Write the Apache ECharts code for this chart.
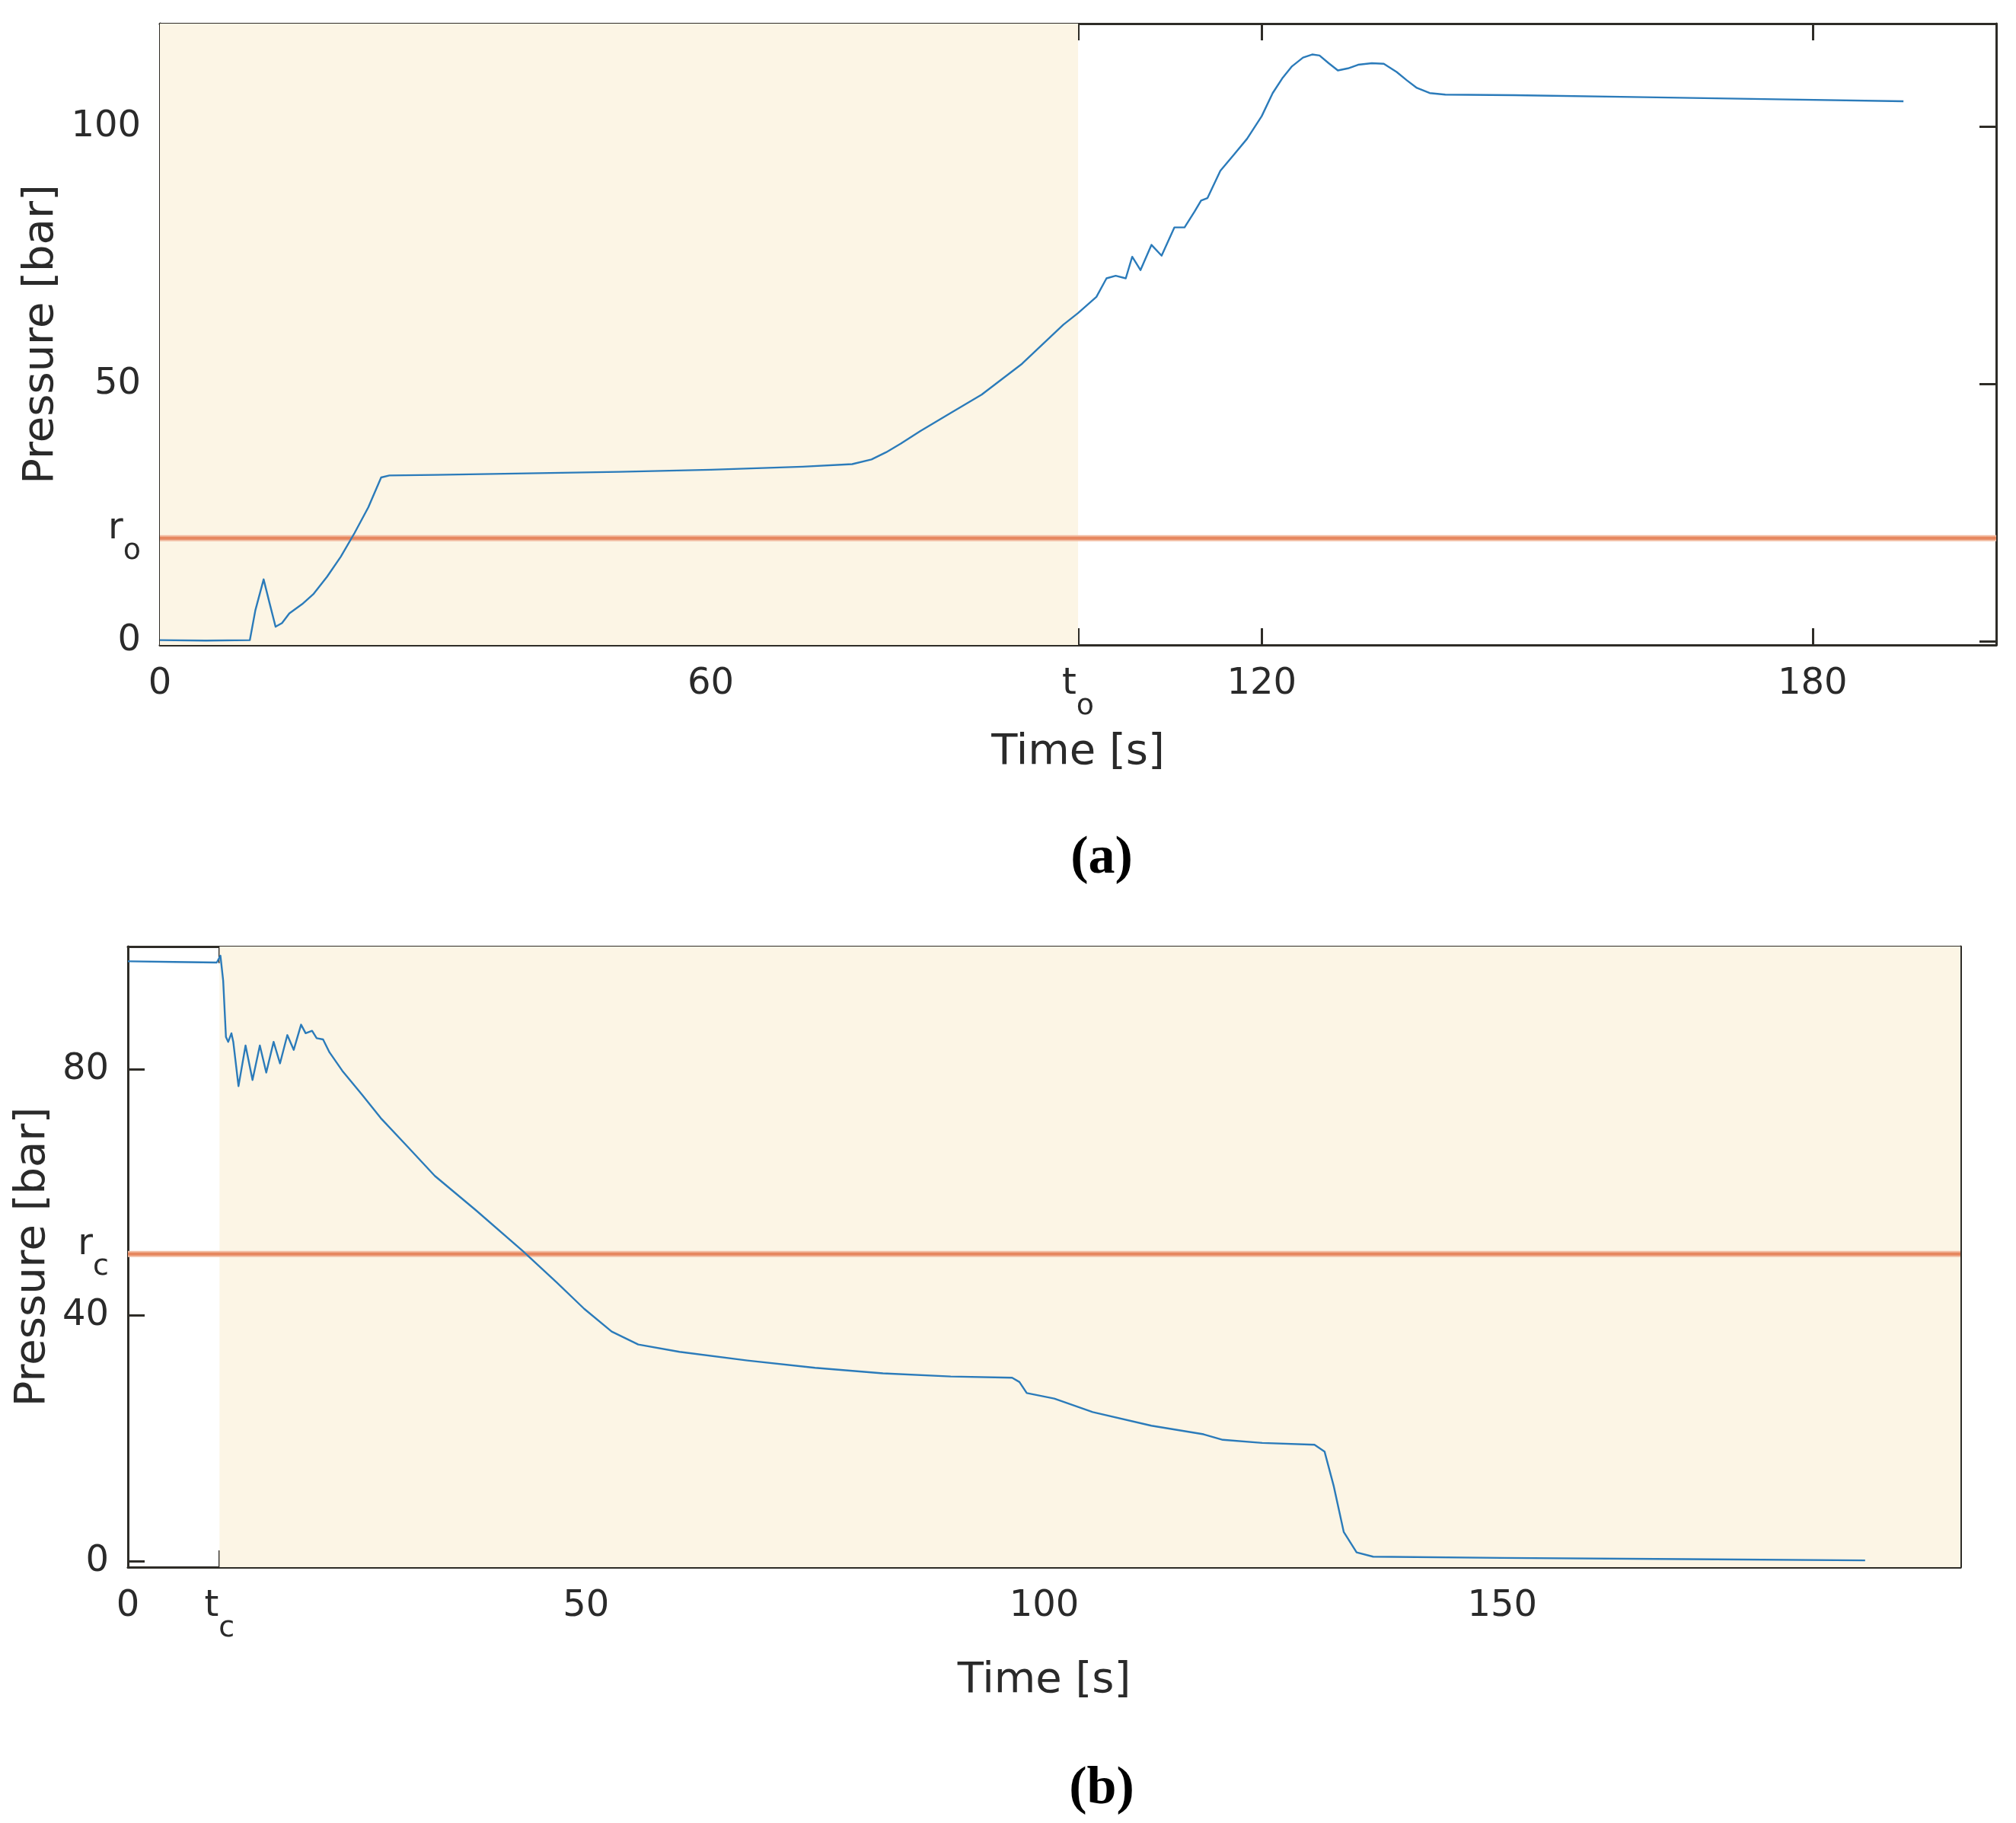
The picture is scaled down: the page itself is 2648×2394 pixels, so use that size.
<!DOCTYPE html>
<html><head><meta charset="utf-8">
<script src="https://cdn.jsdelivr.net/npm/echarts@6/dist/echarts.min.js"></script>
<style>html,body{margin:0;padding:0;background:#fff}#c{width:2648px;height:2394px}</style>
</head><body><div id="c"></div>
<script>
// ---- Panel (a) data ----
const timeA = [0, 5, 9.8, 10.4, 11.3, 12.0, 12.6, 13.3, 14.1, 15.5,
  16.7, 18.2, 19.7, 21.2, 22.7, 24.1, 25.0, 30, 40, 50,
  60, 70, 75.4, 77.5, 79.1, 80.7, 82.8, 86, 89.5, 93.9, 98.4,
  100, 102, 103.1, 104.1, 105.2, 105.9, 106.8, 108, 109.1, 110.5,
  111.6, 112.7, 113.4, 114.1, 115.5, 117, 118.4, 120, 121.2, 122.3,
  123.3, 124.5, 125.5, 126.3, 127.3, 128.3, 129.4, 130.5, 132, 133.3,
  134.7, 135.8, 136.9, 138.3, 140, 147.5, 161.7, 176, 189.9];
const pressureA = [0.2, 0.1, 0.2, 6, 12, 7, 2.8, 3.5, 5.4, 7.2,
  9.1, 12.5, 16.4, 21, 26, 31.8, 32.2, 32.3, 32.6, 32.9,
  33.3, 33.9, 34.4, 35.3, 36.7, 38.4, 40.8, 44.2, 47.9, 53.9, 61.5,
  63.75, 66.9, 70.5, 71, 70.5, 74.7, 72.1, 77, 74.9, 80.4,
  80.4, 83.5, 85.6, 86.1, 91.4, 94.6, 97.6, 102, 106.5, 109.5,
  111.7, 113.4, 114, 113.8, 112.3, 110.9, 111.3, 112, 112.3, 112.2,
  110.6, 109, 107.5, 106.5, 106.2, 106.1, 105.7, 105.3, 104.9];
const thresholdA = 20;          // r_o
const shadeA = [0, 100];        // 0 .. t_o
const xTicksA = [0, 60, 100, 120, 180];
const xLabelsA = ['0', '60', 't_o', '120', '180'];
const yTicksA = [0, 20, 50, 100];
const yLabelsA = ['0', 'r_o', '50', '100'];

// ---- Panel (b) data ----
const timeB = [0, 5, 9.7, 10.1, 10.4, 10.7, 10.95, 11.3, 11.5, 12.07,
  12.84, 13.6, 14.4, 15.1, 15.9, 16.6, 17.4, 18.1, 18.9, 19.4,
  20.1, 20.6, 21.3, 22.0, 23.4, 25.5, 27.6, 30.5, 33.5, 38,
  43.1, 46.8, 49.8, 52.8, 55.7, 60.2, 67.6, 75, 82.4, 89.8,
  96.5, 97.3, 98.1, 101.1, 105.3, 111.7, 117.4, 119.5, 123.8, 129.5,
  130.6, 131.6, 132.7, 134.1, 135.9, 150, 170, 189.6];
const pressureB = [97.6, 97.5, 97.4, 98.5, 94.4, 85.3, 84.5, 85.9, 84.5, 77.3,
  83.9, 78.3, 83.9, 79.5, 84.5, 81.0, 85.6, 83.2, 87.3, 85.9,
  86.3, 85.1, 84.9, 82.8, 79.8, 76.0, 72.1, 67.5, 62.7, 57.1,
  50.5, 45.4, 41.1, 37.4, 35.3, 34.1, 32.7, 31.5, 30.6, 30.1,
  29.9, 29.2, 27.4, 26.5, 24.3, 22.1, 20.7, 19.8, 19.3, 19.0,
  17.9, 12.3, 4.8, 1.5, 0.8, 0.6, 0.4, 0.2];
const thresholdB = 50;          // r_c
const shadeB = [10, 200];       // t_c .. end
const xTicksB = [0, 10, 50, 100, 150];
const xLabelsB = ['0', 't_c', '50', '100', '150'];
const yTicksB = [0, 40, 50, 80];
const yLabelsB = ['0', '40', 'r_c', '80'];

const txt = '#2a2a2a', axisCol = '#2e2c27', shadeCol = '#FCF5E5';
const blue = '#2b7bba', orangeCore = '#E6875F', orangeHalo = '#F2BCA2';
const FONT = 'DejaVu Sans';

function fmt(ticks, labels) {
  return function (v) {
    const i = ticks.indexOf(v);
    if (i < 0) return '';
    const s = labels[i];
    if (s.indexOf('_') >= 0) { const p = s.split('_'); return '{m|' + p[0] + '}{s|' + p[1] + '}'; }
    return s;
  };
}
const rich = {
  m: { fontSize: 48, color: txt, fontFamily: FONT, padding: [0, 0, 24, 0] },
  s: { fontSize: 38, color: txt, fontFamily: FONT, padding: [34, 0, 0, 0] }
};

function axis(kind, gridIndex, pos, min, max, ticks, labels, name, nameGap) {
  const main = labels != null;
  return {
    type: 'value', gridIndex: gridIndex, position: pos, min: min, max: max,
    axisLine: { show: true, onZero: false, lineStyle: { color: axisCol, width: 3 } },
    axisTick: { show: true, inside: true, length: 22, customValues: ticks, lineStyle: { color: axisCol, width: 3 } },
    axisLabel: { show: main, customValues: ticks, formatter: main ? fmt(ticks, labels) : '', fontSize: 48,
      color: txt, fontFamily: FONT, margin: kind === 'x' ? 28 : 25, rich: rich },
    splitLine: { show: false },
    name: main ? name : '', nameLocation: 'middle', nameGap: nameGap || 0,
    nameTextStyle: { fontSize: 56, color: txt, fontFamily: FONT }
  };
}

function pairs(xs, ys) { return xs.map(function (x, i) { return [x, ys[i]]; }); }

const chart = echarts.init(document.getElementById('c'), null, { renderer: 'canvas' });
chart.setOption({
  animation: false,
  backgroundColor: '#ffffff',
  grid: [
    { left: 210, top: 31, width: 2412, height: 816 },
    { left: 168, top: 1243, width: 2407, height: 815 }
  ],
  xAxis: [
    axis('x', 0, 'bottom', 0, 200, xTicksA, xLabelsA, 'Time [s]', 113),
    axis('x', 0, 'top', 0, 200, xTicksA, null),
    axis('x', 1, 'bottom', 0, 200, xTicksB, xLabelsB, 'Time [s]', 121),
    axis('x', 1, 'top', 0, 200, xTicksB, null)
  ],
  yAxis: [
    axis('y', 0, 'left', -0.75, 120, yTicksA, yLabelsA, 'Pressure [bar]', 128),
    axis('y', 0, 'right', -0.75, 120, yTicksA, null),
    axis('y', 1, 'left', -0.9, 100, yTicksB, yLabelsB, 'Pressure [bar]', 92),
    axis('y', 1, 'right', -0.9, 100, yTicksB, null)
  ],
  series: [
    { type: 'line', xAxisIndex: 0, yAxisIndex: 0, data: [], z: 1, silent: true,
      markArea: { silent: true, itemStyle: { color: shadeCol }, data: [[{ xAxis: shadeA[0] }, { xAxis: shadeA[1] }]] } },
    { type: 'line', xAxisIndex: 0, yAxisIndex: 0, z: 3, silent: true, showSymbol: false,
      data: [[0, thresholdA], [200, thresholdA]], lineStyle: { color: orangeHalo, width: 8 } },
    { type: 'line', xAxisIndex: 0, yAxisIndex: 0, z: 4, silent: true, showSymbol: false,
      data: [[0, thresholdA], [200, thresholdA]], lineStyle: { color: orangeCore, width: 4 } },
    { type: 'line', xAxisIndex: 0, yAxisIndex: 0, z: 5, showSymbol: false,
      data: pairs(timeA, pressureA), lineStyle: { color: blue, width: 2.4, join: 'round' } },

    { type: 'line', xAxisIndex: 2, yAxisIndex: 2, data: [], z: 1, silent: true,
      markArea: { silent: true, itemStyle: { color: shadeCol }, data: [[{ xAxis: shadeB[0] }, { xAxis: shadeB[1] }]] } },
    { type: 'line', xAxisIndex: 2, yAxisIndex: 2, z: 3, silent: true, showSymbol: false,
      data: [[0, thresholdB], [200, thresholdB]], lineStyle: { color: orangeHalo, width: 8 } },
    { type: 'line', xAxisIndex: 2, yAxisIndex: 2, z: 4, silent: true, showSymbol: false,
      data: [[0, thresholdB], [200, thresholdB]], lineStyle: { color: orangeCore, width: 4 } },
    { type: 'line', xAxisIndex: 2, yAxisIndex: 2, z: 5, showSymbol: false,
      data: pairs(timeB, pressureB), lineStyle: { color: blue, width: 2.4, join: 'round' } }
  ],
  graphic: [
    { type: 'text', x: 1447, y: 1128, style: { text: '(a)', font: 'bold 70px "Liberation Serif"', fill: '#000', align: 'center', verticalAlign: 'middle' } },
    { type: 'text', x: 1447, y: 2350, style: { text: '(b)', font: 'bold 70px "Liberation Serif"', fill: '#000', align: 'center', verticalAlign: 'middle' } }
  ]
});
</script>
</body></html>
